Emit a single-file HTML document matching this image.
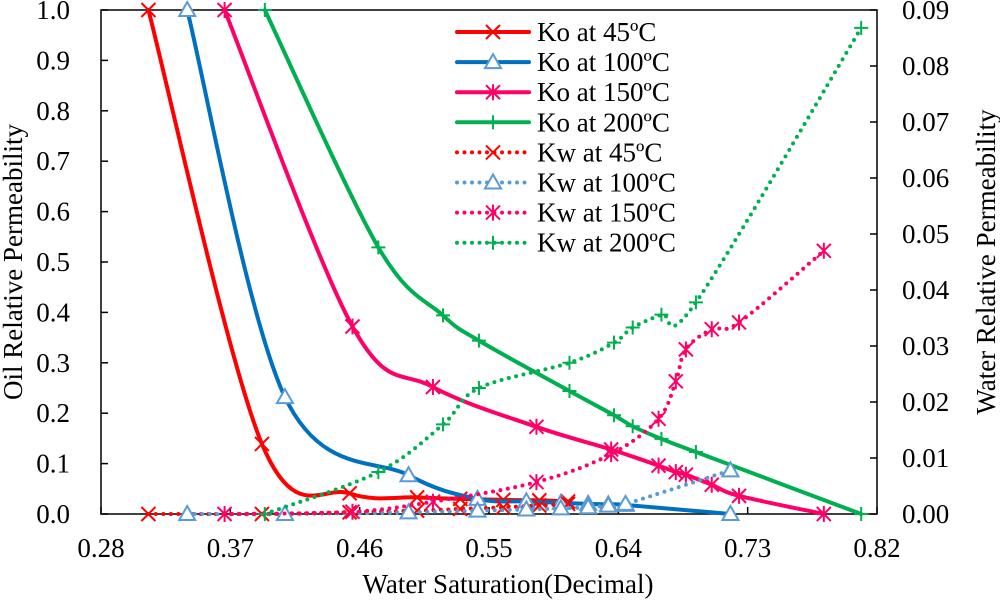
<!DOCTYPE html>
<html><head><meta charset="utf-8"><style>
body{margin:0;background:#fff}
svg text{font-family:"Liberation Serif",serif;fill:#000}
</style></head><body>
<svg id="chart" width="1000" height="600">
<g id="axes"></g><g id="series"></g><g id="legend"></g>
</svg>
<script>
const xTicks=["0.28","0.37","0.46","0.55","0.64","0.73","0.82"];
const yLeftTicks=["0.0","0.1","0.2","0.3","0.4","0.5","0.6","0.7","0.8","0.9","1.0"];
const yRightTicks=["0.00","0.01","0.02","0.03","0.04","0.05","0.06","0.07","0.08","0.09"];
const sw45=[0.313,0.392,0.453,0.500,0.530,0.560,0.585,0.605];
const ko45=[1.0,0.139,0.041,0.033,0.030,0.028,0.027,0.025];
const kw45=[0,0,0.0003,0.0006,0.0009,0.0012,0.0015,0.0018];
const sw100=[0.340,0.408,0.494,0.542,0.576,0.600,0.619,0.633,0.645,0.718];
const ko100=[1.0,0.232,0.077,0.030,0.025,0.022,0.020,0.019,0.018,0.0];
const kw100=[0,0,0.0003,0.0006,0.0008,0.0010,0.0012,0.0015,0.0018,0.0078];
const sw150=[0.366,0.455,0.511,0.583,0.635,0.668,0.680,0.687,0.705,0.724,0.783];
const ko150=[1.0,0.372,0.252,0.173,0.128,0.096,0.083,0.078,0.058,0.036,0.0];
const kw150=[0,0.0004,0.0022,0.0057,0.0107,0.017,0.0237,0.0294,0.033,0.0342,0.047];
const sw200=[0.394,0.473,0.518,0.543,0.606,0.637,0.650,0.670,0.694,0.809];
const ko200=[1.0,0.529,0.394,0.344,0.244,0.196,0.174,0.149,0.123,0.0];
const kw200=[0,0.0075,0.016,0.0225,0.027,0.0306,0.0333,0.0356,0.0378,0.0868];

const L=101,R=877,T=10,B=514;
const X=v=>L+(v-0.28)/0.54*(R-L);
const YL=v=>B-v/1.0*(B-T);
const YR=v=>B-v/0.09*(B-T);
const NS="http://www.w3.org/2000/svg";
function mk(tag,attrs,parent){const e=document.createElementNS(NS,tag);for(const k in attrs)e.setAttribute(k,attrs[k]);parent.appendChild(e);return e;}
const axes=document.getElementById('axes'),ser=document.getElementById('series'),leg=document.getElementById('legend');
const FS=27;

let a=mk('rect',{x:L,y:T,width:R-L,height:B-T,fill:'none',stroke:'#000','stroke-width':1.5},axes);


xTicks.forEach(t=>{const x=X(+t);
 mk('line',{x1:x,x2:x,y1:B,y2:B-7,stroke:'#000','stroke-width':1.5},axes);
 const tx=mk('text',{x:x,y:B+43,'font-size':FS,'text-anchor':'middle'},axes);tx.textContent=t;
 
 });
yLeftTicks.forEach(t=>{const y=YL(+t);
 mk('line',{x1:L,x2:L+7,y1:y,y2:y,stroke:'#000','stroke-width':1.5},axes);
 const tx=mk('text',{x:70,y:y+9,'font-size':FS,'text-anchor':'end'},axes);tx.textContent=t;
 
 });
yRightTicks.forEach(t=>{const y=YR(+t);
 mk('line',{x1:R,x2:R-7,y1:y,y2:y,stroke:'#000','stroke-width':1.5},axes);
 const tx=mk('text',{x:902,y:y+9,'font-size':FS,'text-anchor':'start'},axes);tx.textContent=t;
 
 });
let xt=mk('text',{x:508,y:593,'font-size':FS,'text-anchor':'middle'},axes);xt.textContent='Water Saturation(Decimal)';


let yt=mk('text',{x:0,y:0,'font-size':FS,'text-anchor':'middle',transform:'translate(22,'+(T+B)/2+') rotate(-90)'},axes);yt.textContent='Oil Relative Permeability';


let yt2=mk('text',{x:0,y:0,'font-size':FS,'text-anchor':'middle',transform:'translate(995,'+(T+B)/2+') rotate(-90)'},axes);yt2.textContent='Water Relative Permeability';



function smooth(pts){let d='M'+pts[0][0]+','+pts[0][1];
 for(let i=0;i<pts.length-1;i++){const p0=pts[i-1]||pts[i],p1=pts[i],p2=pts[i+1],p3=pts[i+2]||p2;const k=1/6;
  d+=' C'+(p1[0]+(p2[0]-p0[0])*k)+','+(p1[1]+(p2[1]-p0[1])*k)+' '+(p2[0]-(p3[0]-p1[0])*k)+','+(p2[1]-(p3[1]-p1[1])*k)+' '+p2[0]+','+p2[1];}
 return d;}
function marker(type,x,y,col,g){const s=7;
 if(type==='x'){mk('path',{d:`M${x-s},${y-s}L${x+s},${y+s}M${x-s},${y+s}L${x+s},${y-s}`,stroke:col,'stroke-width':2,fill:'none'},g);}
 else if(type==='tri'){mk('path',{d:`M${x},${y-8}L${x+8},${y+6}L${x-8},${y+6}Z`,stroke:col,'stroke-width':2,fill:'#fff'},g);}
 else if(type==='star'){mk('path',{d:`M${x-s},${y-s}L${x+s},${y+s}M${x-s},${y+s}L${x+s},${y-s}M${x},${y-8}L${x},${y+8}`,stroke:col,'stroke-width':2,fill:'none'},g);}
 else {mk('path',{d:`M${x-s},${y}L${x+s},${y}M${x},${y-s}L${x},${y+s}`,stroke:col,'stroke-width':2,fill:'none'},g);}}
const defs=[
 ['ko-45','Ko at 45ºC',sw45,ko45,YL,'#ff0000','#ff0000','x',false],
 ['ko-100','Ko at 100ºC',sw100,ko100,YL,'#0070c0','#5b9bd5','tri',false],
 ['ko-150','Ko at 150ºC',sw150,ko150,YL,'#ff0066','#ff0066','star',false],
 ['ko-200','Ko at 200ºC',sw200,ko200,YL,'#00b050','#00b050','plus',false],
 ['kw-45','Kw at 45ºC',sw45,kw45,YR,'#ff0000','#ff0000','x',true],
 ['kw-100','Kw at 100ºC',sw100,kw100,YR,'#5b9bd5','#5b9bd5','tri',true],
 ['kw-150','Kw at 150ºC',sw150,kw150,YR,'#ff0066','#ff0066','star',true],
 ['kw-200','Kw at 200ºC',sw200,kw200,YR,'#00b050','#00b050','plus',true]];
defs.forEach((d,i)=>{const [id,label,xs,ys,Y,lc,mc,mt,dot]=d;
 const g=mk('g',{},ser);
 
 
 const pts=xs.map((v,j)=>[X(v),Y(ys[j])]);
 const st={fill:'none',stroke:lc,'stroke-width':4,'stroke-linecap':'round'};
 if(dot)st['stroke-dasharray']='0 7.5';
 st.d=smooth(pts);mk('path',st,g);
 pts.forEach(p=>marker(mt,p[0],p[1],mc,g));
 const ly=32+i*30.1;
 const lg=mk('g',{},leg);
 
 
 const ls={x1:457,x2:529,y1:ly,y2:ly,stroke:lc,'stroke-width':4,'stroke-linecap':'round'};
 if(dot)ls['stroke-dasharray']='0 7.5';
 mk('line',ls,lg);marker(mt,493,ly,mc,lg);
 const t=mk('text',{x:537,y:ly+9,'font-size':FS},lg);t.textContent=label;});
</script>
</body></html>
